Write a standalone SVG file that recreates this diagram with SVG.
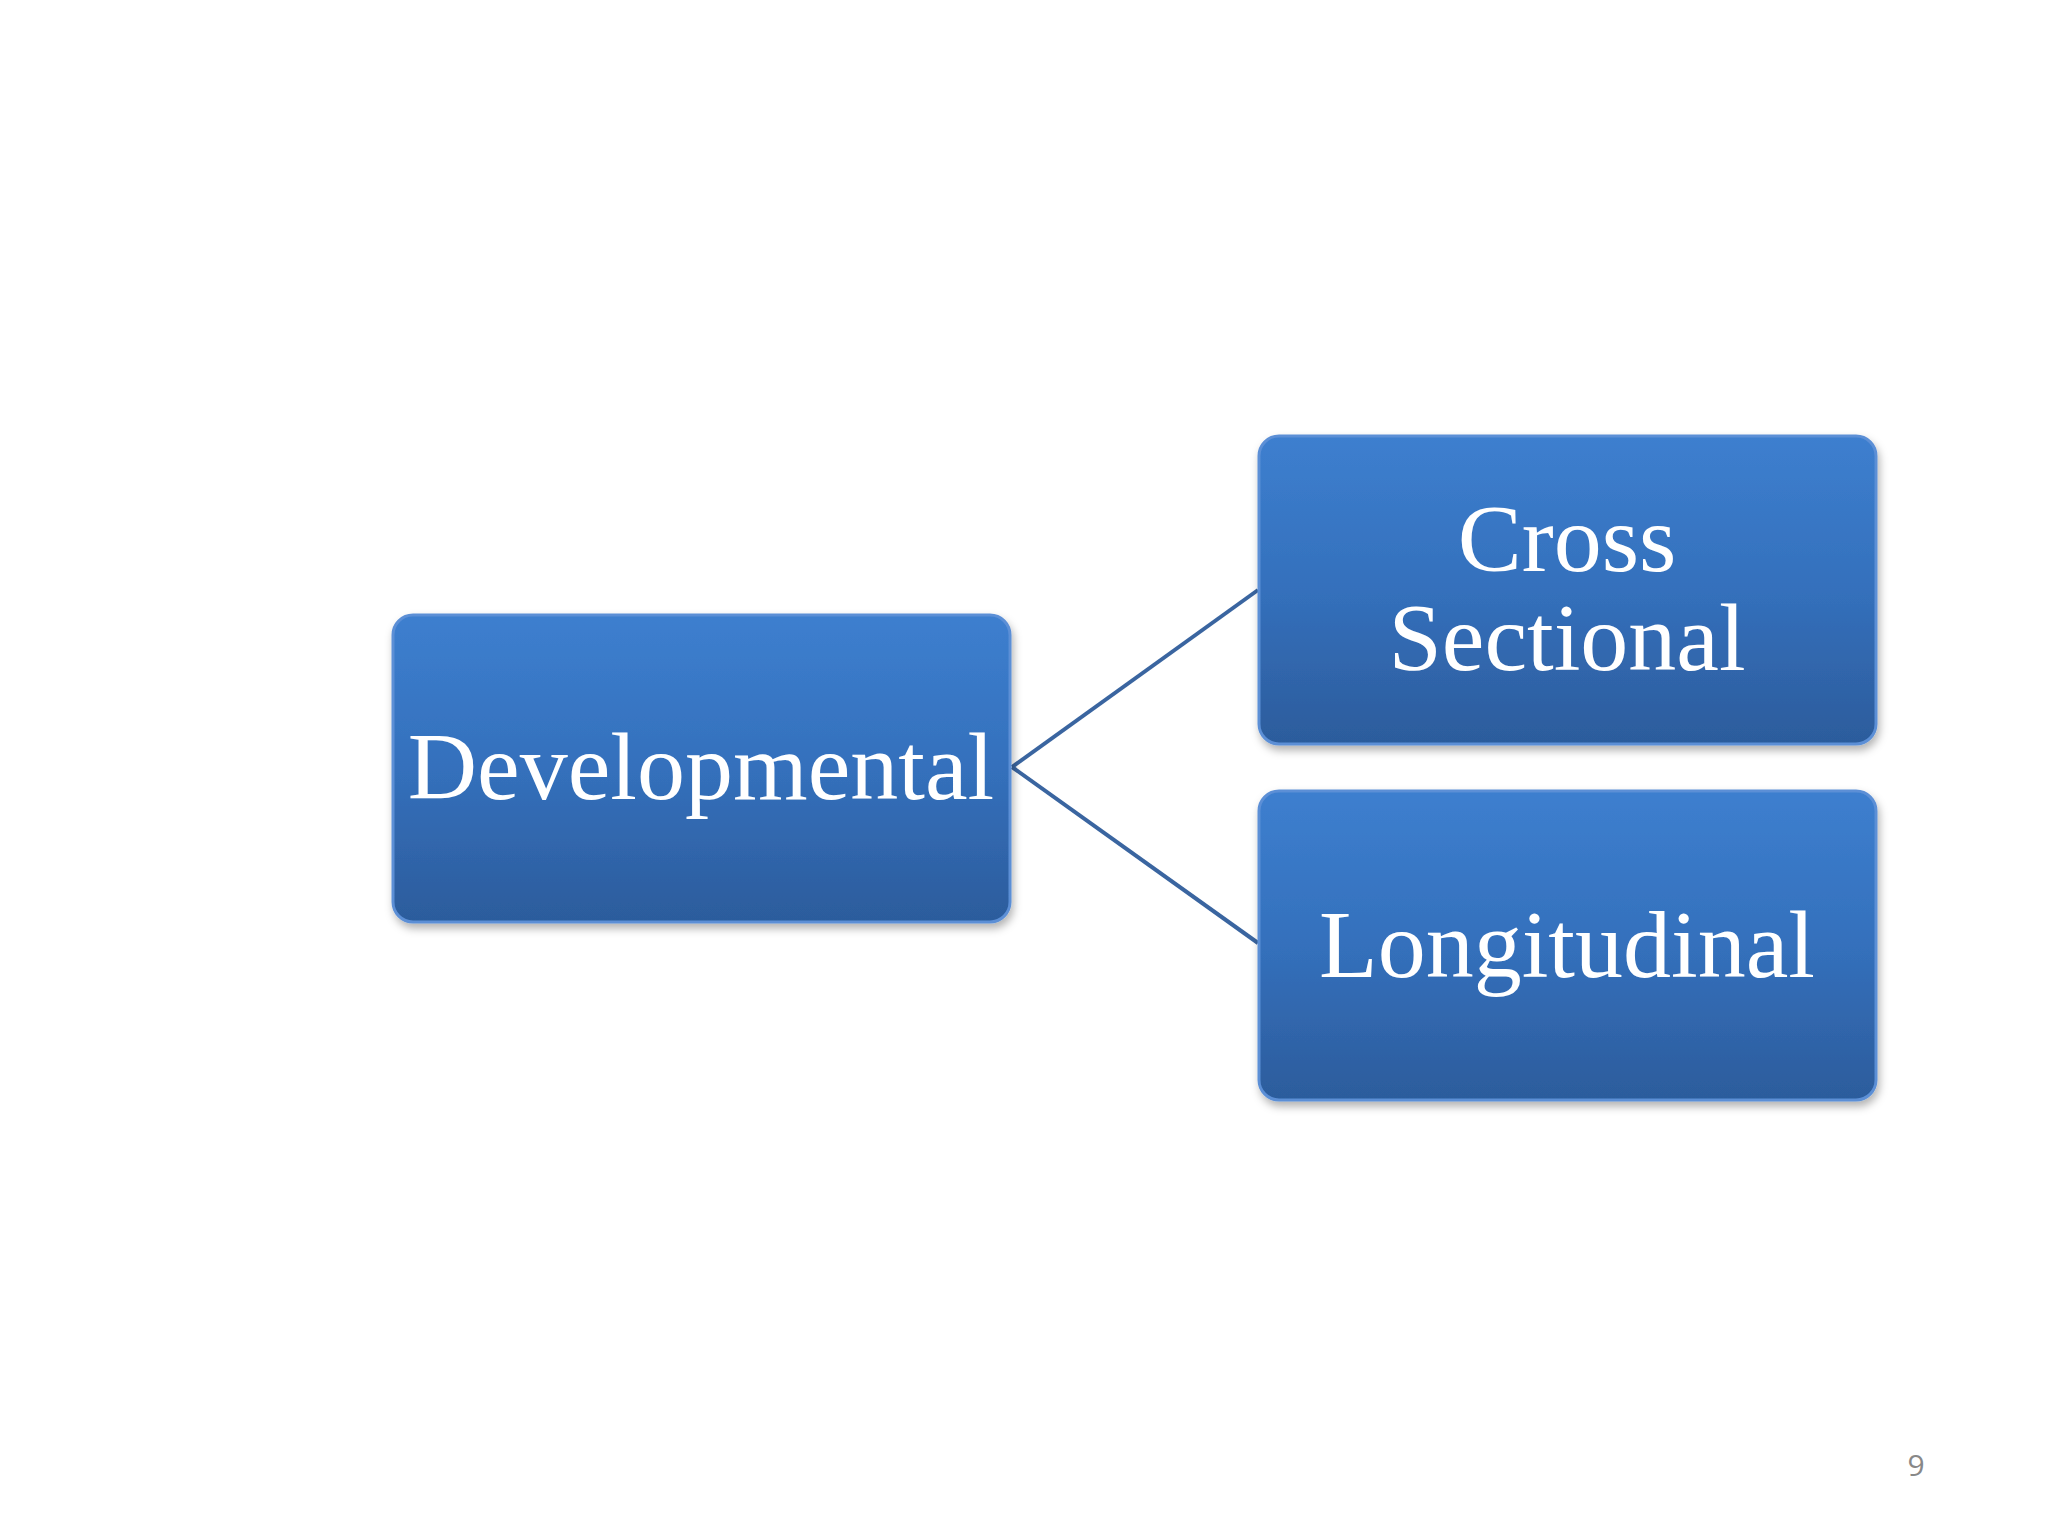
<svg xmlns="http://www.w3.org/2000/svg" width="2048" height="1536" viewBox="0 0 2048 1536">
<defs>
<linearGradient id="g" x1="0" y1="0" x2="0" y2="1">
<stop offset="0" stop-color="#3d7fcf"/>
<stop offset="0.5" stop-color="#3470bc"/>
<stop offset="1" stop-color="#2c5c9c"/>
</linearGradient>
<filter id="sh" x="-5%" y="-5%" width="115%" height="120%"><feDropShadow dx="2" dy="5" stdDeviation="4" flood-color="#000" flood-opacity="0.3"/></filter>
<style>
.box{fill:url(#g);stroke:#5b8fd6;stroke-width:3;filter:url(#sh)}
.t{font-family:"Liberation Serif",serif;font-size:96px;fill:#fff;text-anchor:middle}
.c{stroke:#3a65a0;stroke-width:4;fill:none}
</style>
</defs>
<rect width="2048" height="1536" fill="#fff"/>
<g id="connectors">
<path class="c" d="M1012 767 L1258 590"/>
<path class="c" d="M1012 767 L1258 943"/>
</g>
<g id="developmental">
<rect class="box" x="393" y="615" width="617" height="307" rx="20"/>
<text class="t" x="701" y="799">Developmental</text>
</g>
<g id="cross">
<rect class="box" x="1259" y="436" width="617" height="308" rx="20"/>
<text class="t" x="1567" y="571">Cross</text>
<text class="t" x="1567" y="670">Sectional</text>
</g>
<g id="longitudinal">
<rect class="box" x="1259" y="791" width="617" height="309" rx="20"/>
<text class="t" x="1567" y="977">Longitudinal</text>
</g>
<text x="1916" y="1476" font-family="Open Sans,sans-serif" font-size="30" fill="#888" text-anchor="middle">9</text>
</svg>
